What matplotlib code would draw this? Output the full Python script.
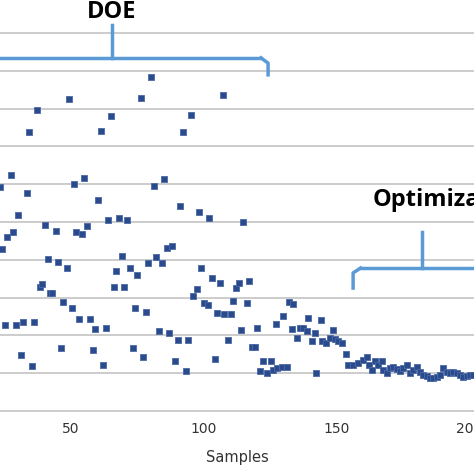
import matplotlib
matplotlib.use("Agg")
import matplotlib.pyplot as plt

xs = [23.3,27.3,33.3,30.2,28.3,26.1,23.9,25.2,29.3,32.1,36.2,31.1,35.2,34.2,37.1,49.3,40.2,44.3,41.2,45.3,48.4,38.4,39,42.1,43,47.1,50.3,53.2,57.2,59.1,46.3,51.2,55.1,60.1,51.9,54.1,56.2,58.2,62.2,63.2,61.3,65.1,76.2,80.1,64.1,68.1,71,69.3,67,66.2,70.1,72.2,75,74.1,78.1,73.2,77.3,79.1,82,84.4,86,88.2,81.3,85.2,83.1,87.0,90.2,89.2,94.2,93.2,92.1,95.1,91.1,98.2,102.1,96.1,97.3,99,100.1,101.5,103.1,106.1,105.1,107.6,110.1,111.1,112.1,113.3,116.1,117.1,114.9,107.4,109.2,104.2,114,118,119.3,119.9,121.2,122.4,123.7,125.2,126.2,127.4,129.3,131.5,127.2,130,132.1,133.7,133.1,135,136.2,137.5,138.7,139.4,140.6,141.9,142.2,144.1,144.4,146,147.5,148.8,149.4,150.6,151.9,153.5,154.4,156.3,158.2,160.1,161.3,162,163.2,164.5,165.7,167,167.6,168.8,170.1,171.4,172.6,173.9,175.1,176.4,177.6,178.9,180.1,181.4,182.6,183.9,185.2,186.4,187.7,188.9,190.2,191.4,192.7,193.9,195.2,196.5,197.7,199,200.2,201.5]
ys = [5.93,6.23,5.76,5.19,4.73,4.59,4.29,2.28,2.28,2.36,2.34,1.49,1.2,7.39,7.95,8.25,4.92,4.77,4.02,3.95,3.77,3.29,3.35,3.11,3.11,2.89,2.73,2.43,2.43,2.16,1.66,6.0,6.16,5.58,4.74,4.67,4.9,1.61,1.22,2.2,7.41,7.81,8.27,8.83,5.05,5.11,5.04,4.11,3.71,3.29,3.27,3.79,3.6,2.73,2.61,1.66,1.44,3.91,4.07,3.92,4.32,4.37,5.95,6.13,2.12,2.07,1.88,1.32,1.88,1.07,7.37,7.83,5.43,5.25,5.1,3.05,3.23,3.79,2.85,2.8,3.53,3.38,2.58,2.57,2.57,2.91,3.25,3.38,2.85,3.45,5.01,8.36,1.88,1.38,2.13,1.7,1.7,2.2,1.07,1.33,1.01,1.31,1.08,1.13,1.17,1.17,2.29,2.52,2.89,2.83,2.17,1.94,2.19,2.19,2.12,2.47,1.86,2.05,1.01,2.41,1.86,1.81,1.94,2.14,1.9,1.86,1.79,1.5,1.22,1.22,1.26,1.35,1.44,1.22,1.08,1.31,1.22,1.31,1.08,1.01,1.13,1.17,1.1,1.07,1.13,1.22,1.0,1.08,1.17,1.04,0.95,0.93,0.86,0.86,0.91,0.95,1.13,1.04,1.01,1.04,1.0,0.95,0.91,0.93,0.95,0.95]
xticks = [50, 100, 150, 200]

fig = plt.figure(figsize=(4.74, 4.74), dpi=100)
ax = fig.add_axes([0, 0.133, 1, 0.867])
ax.set_xlim(23.3, 201.7)
ax.set_ylim(0, 10.87)
for g in range(1, 11):
    ax.axhline(g, color='#c8c8c8', lw=1.3, zorder=0)
for s in ['top', 'right', 'left']:
    ax.spines[s].set_visible(False)
ax.spines['bottom'].set_color('#c8c8c8')
ax.spines['bottom'].set_linewidth(1.3)
ax.set_yticks([])
ax.set_xticks(xticks)
ax.tick_params(axis='x', length=0, labelsize=10, colors='#333333', pad=8)
ax.set_xlabel('Samples', fontsize=10.5, color='#333333', labelpad=10)
ax.scatter(xs, ys, marker='s', s=22, color='#2b4a8b', edgecolors='#4a6aa8', linewidths=0.6, zorder=3, clip_on=False)

bc = '#5b9bd5'
ax.plot([23.3, 121.5], [9.34, 9.34], color=bc, lw=2.5, clip_on=False)
ax.plot([121.5, 124.2, 124.2], [9.34, 9.2, 8.89], color=bc, lw=2.5, clip_on=False)
ax.plot([65.5, 65.5], [9.34, 10.21], color=bc, lw=2.5, clip_on=False)
ax.text(65.5, 10.56, 'DOE', ha='center', va='center', fontsize=17, fontweight='bold', family='Open Sans')

ax.plot([159, 201.7], [3.78, 3.78], color=bc, lw=2.5, clip_on=False)
ax.plot([159, 156.2, 156.2], [3.78, 3.65, 3.25], color=bc, lw=2.5, clip_on=False)
ax.plot([182.1, 182.1], [3.78, 4.74], color=bc, lw=2.5, clip_on=False)
ax.text(163.7, 5.58, 'Optimization', ha='left', va='center', fontsize=17, fontweight='bold', family='Open Sans')

fig.savefig('out.png', dpi=100)
